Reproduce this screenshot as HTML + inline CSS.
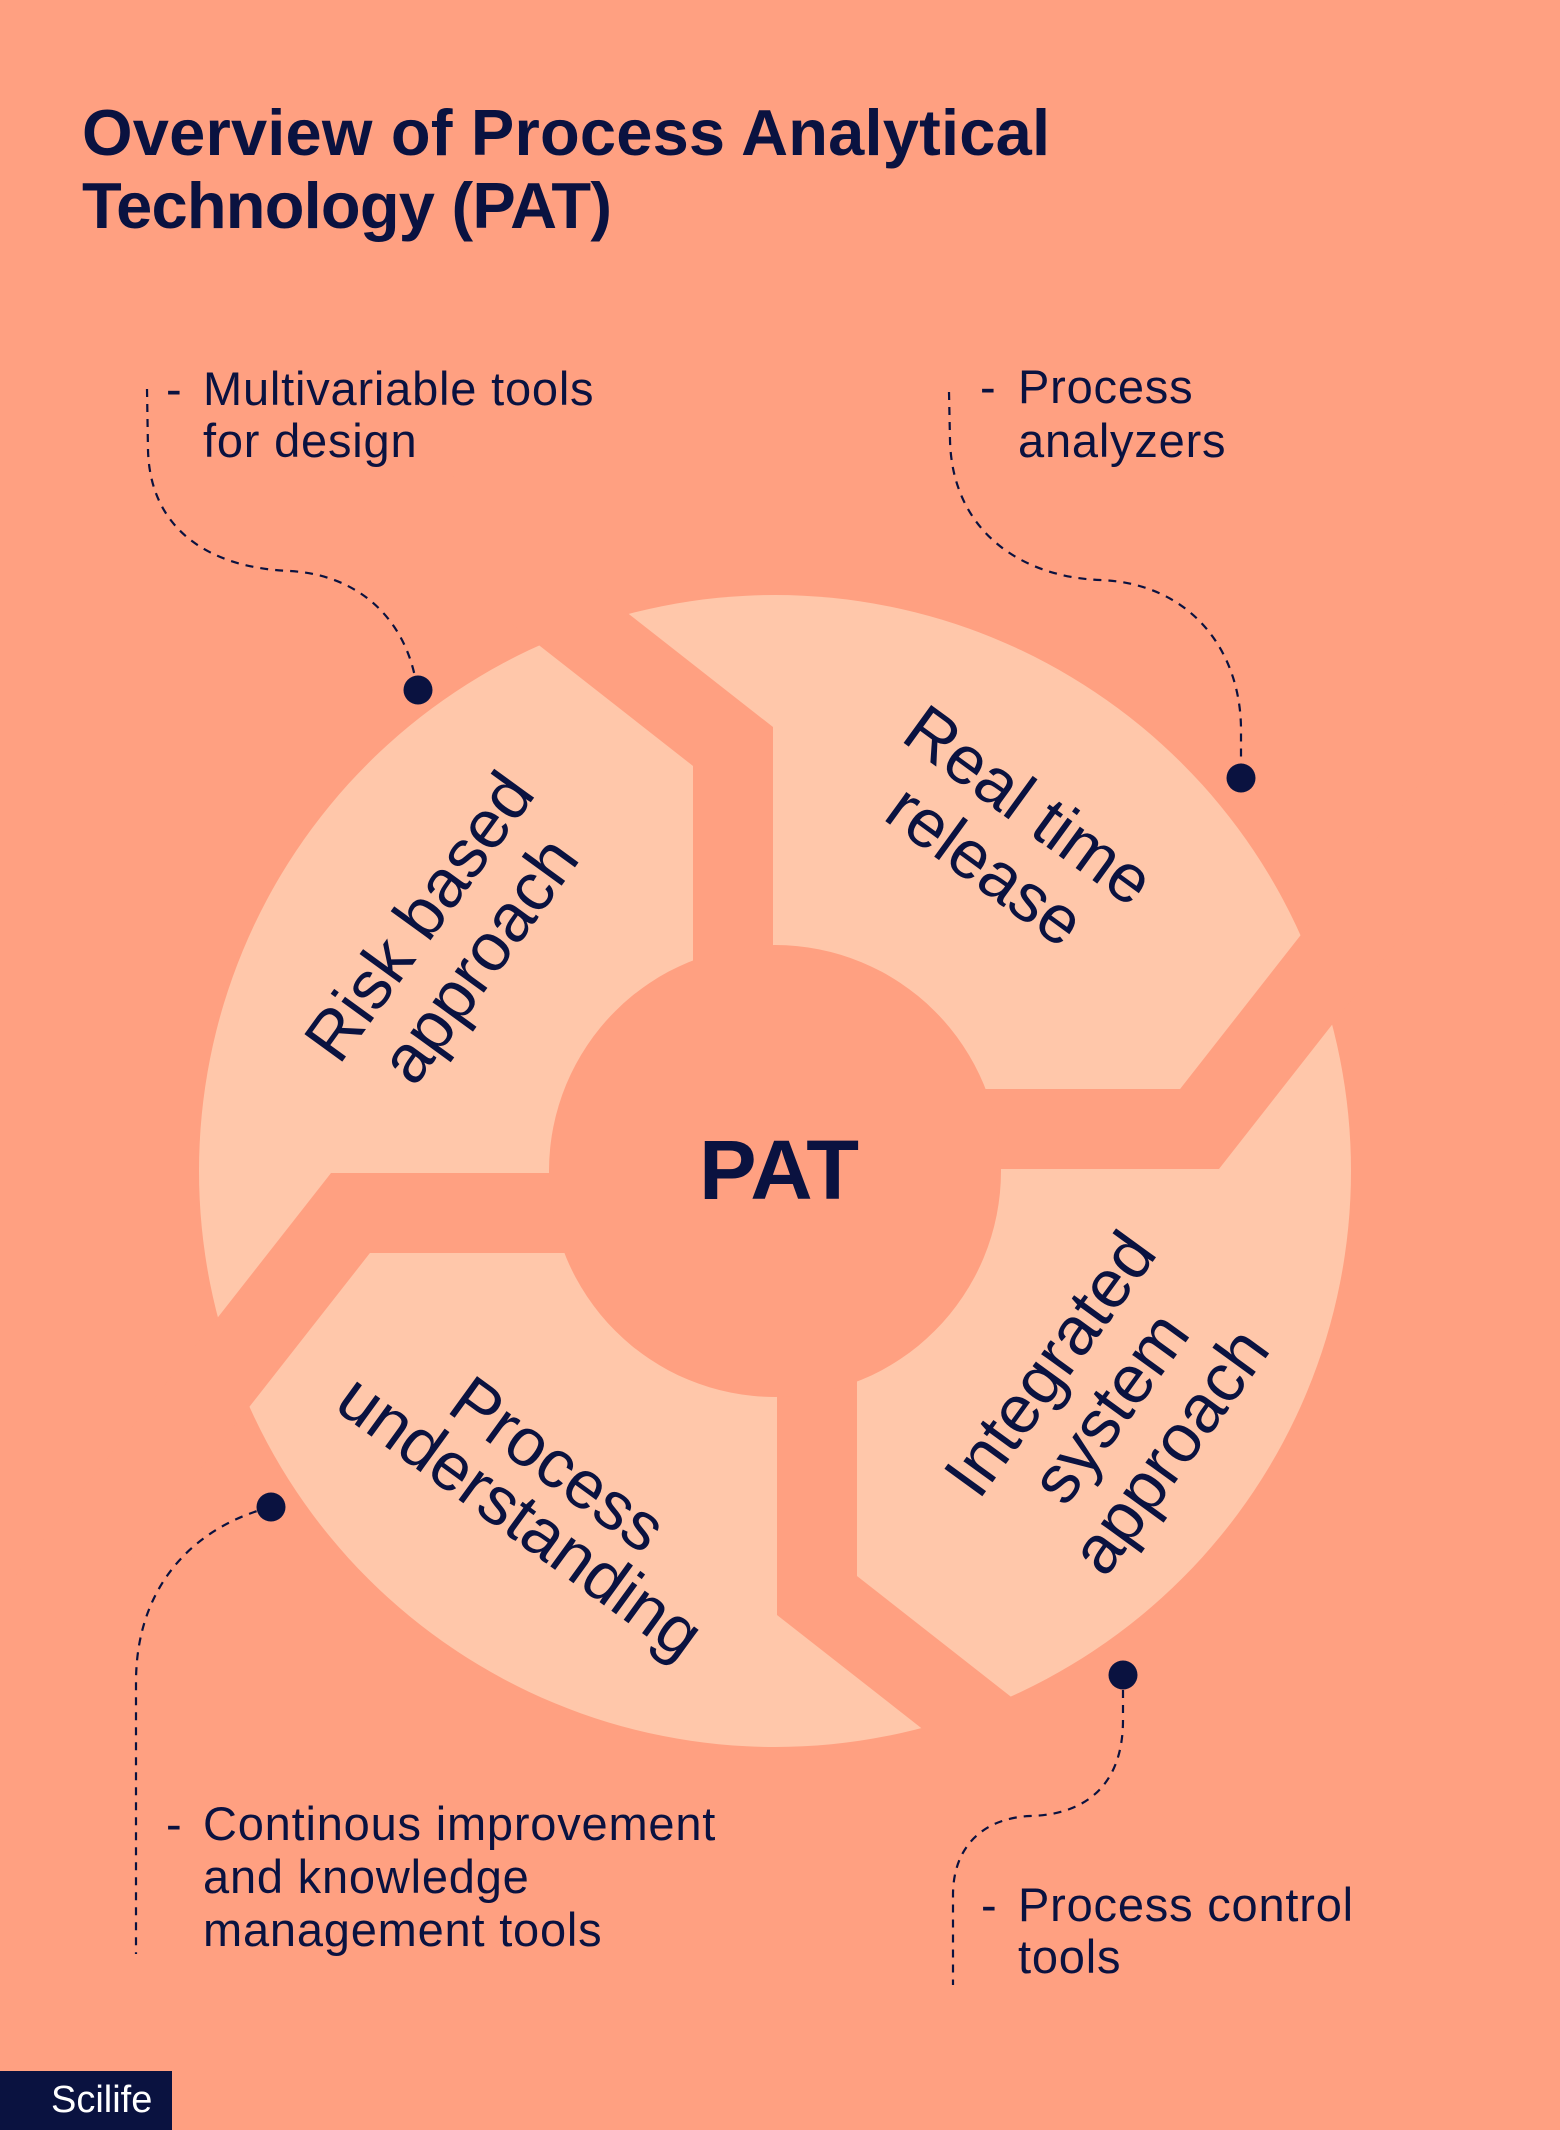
<!DOCTYPE html>
<html>
<head>
<meta charset="utf-8">
<style>
  html, body { margin: 0; padding: 0; }
  body { width: 1560px; height: 2130px; overflow: hidden; background: #FFA081; }
  svg { display: block; }
</style>
</head>
<body>
<svg width="1560" height="2130" viewBox="0 0 1560 2130" xmlns="http://www.w3.org/2000/svg">
  <rect x="0" y="0" width="1560" height="2130" fill="#FFA081"/>

  <!-- Title -->
  <g font-family="'Liberation Sans', sans-serif" font-weight="700" font-size="65" fill="#0A1240">
    <text x="82" y="155" textLength="968" lengthAdjust="spacing">Overview of Process Analytical</text>
    <text x="82" y="228" textLength="530" lengthAdjust="spacing">Technology (PAT)</text>
  </g>

  <!-- Ring -->
  <circle cx="775" cy="1171" r="576" fill="#FFC7AA"/>
  <g fill="none" stroke="#FFA081" stroke-width="80" stroke-linejoin="miter" stroke-miterlimit="10">
    <polyline points="733,1171 733,746.5 339.5,438"/>
    <polyline points="733,1171 733,746.5 339.5,438" transform="rotate(90 775 1171)"/>
    <polyline points="733,1171 733,746.5 339.5,438" transform="rotate(180 775 1171)"/>
    <polyline points="733,1171 733,746.5 339.5,438" transform="rotate(270 775 1171)"/>
  </g>
  <circle cx="775" cy="1171" r="226" fill="#FFA081"/>

  <!-- Center label -->
  <text x="779" y="1199" text-anchor="middle" font-family="'Liberation Sans', sans-serif" font-weight="700" font-size="84" fill="#0A1240" textLength="160" lengthAdjust="spacingAndGlyphs">PAT</text>

  <!-- Segment labels -->
  <g font-family="'Liberation Sans', sans-serif" font-size="68" fill="#0A1240" text-anchor="middle">
    <g transform="translate(451.3 939.8) rotate(-54)">
      <text x="0" y="-16.6">Risk based</text>
      <text x="0" y="57.4">approach</text>
    </g>
    <g transform="translate(1005.5 837.5) rotate(36)">
      <text x="0" y="-16.6">Real time</text>
      <text x="0" y="57.4">release</text>
    </g>
    <g transform="translate(1112 1409) rotate(-54)">
      <text x="0" y="-53.6">Integrated</text>
      <text x="0" y="20.4">system</text>
      <text x="0" y="94.4">approach</text>
    </g>
    <g transform="translate(537.3 1492.7) rotate(36)">
      <text x="0" y="-12">Process</text>
      <text x="0" y="52">understanding</text>
    </g>
  </g>

  <!-- Dashed connectors -->
  <g fill="none" stroke="#0A1240" stroke-width="2.2" stroke-dasharray="8 7">
    <path d="M147,389 L148,450 C150,530 210,568 290,571 C360,575 405,620 416,682"/>
    <path d="M949,392 L950,440 C952,530 1020,577 1100,580 C1190,583 1241,650 1241,730 L1241,778"/>
    <path d="M271,1507 C200,1525 137,1580 136,1680 L136,1954"/>
    <path d="M1123,1675 L1123,1720 C1123,1790 1080,1815 1030,1816 C985,1818 953,1845 953,1895 L953,1985"/>
  </g>
  <g fill="#0A1240">
    <circle cx="418" cy="690" r="14.5"/>
    <circle cx="1241" cy="778" r="14.5"/>
    <circle cx="271" cy="1507" r="14.5"/>
    <circle cx="1123" cy="1675" r="14.5"/>
  </g>

  <!-- Callout labels -->
  <g font-family="'Liberation Sans', sans-serif" font-size="47" fill="#0A1240" letter-spacing="0.8">
    <text x="166" y="405">-</text>
    <text x="203" y="405">Multivariable tools</text>
    <text x="203" y="457">for design</text>

    <text x="980" y="403">-</text>
    <text x="1018" y="403">Process</text>
    <text x="1018" y="457">analyzers</text>

    <text x="166" y="1840">-</text>
    <text x="203" y="1840">Continous improvement</text>
    <text x="203" y="1893">and knowledge</text>
    <text x="203" y="1946">management tools</text>

    <text x="981" y="1921">-</text>
    <text x="1018" y="1921">Process control</text>
    <text x="1018" y="1973">tools</text>
  </g>

  <!-- Logo -->
  <rect x="0" y="2071" width="172" height="59" fill="#0A1240"/>
  <text x="51" y="2112" font-family="'Liberation Sans', sans-serif" font-size="38" fill="#FFFFFF">Scilife</text>
</svg>
</body>
</html>
